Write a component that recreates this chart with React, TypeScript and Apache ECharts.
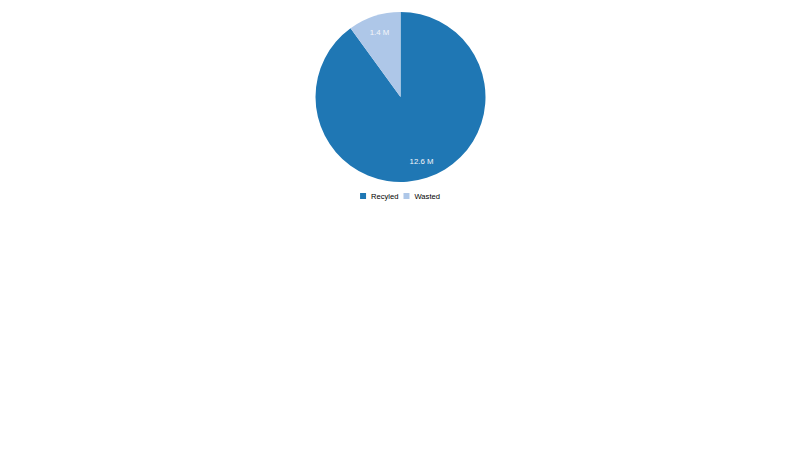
import React, { useEffect, useRef } from "react";
import * as echarts from "echarts";

const categories = ["Recyled", "Wasted"];
const values = [12.6, 1.4];
const colors = ["#1f77b4", "#aec7e8"];

export default function App() {
  const ref = useRef<HTMLDivElement>(null);
  useEffect(() => {
    if (!ref.current) return;
    const chart = echarts.init(ref.current, undefined, { renderer: "svg" });
    const data = categories.map((name, i) => ({
      name,
      value: values[i],
      itemStyle: { color: colors[i] },
    }));
    chart.setOption({
      animation: false,
      legend: {
        data: categories,
        top: 192,
        left: "center",
        itemWidth: 6,
        itemHeight: 6,
        itemGap: 5,
        icon: "rect",
        textStyle: {
          fontSize: 7.6,
          color: "#000",
          fontFamily: "Liberation Sans, Arial, sans-serif",
        },
        padding: 0,
      },
      series: [
        {
          type: "pie",
          center: [400.5, 97],
          radius: [0, 85],
          startAngle: 90,
          clockwise: true,
          label: { show: false },
          labelLine: { show: false },
          emphasis: { disabled: true },
          silent: true,
          data,
        },
        {
          type: "pie",
          center: [400.5, 97],
          radius: [45, 85],
          startAngle: 90,
          clockwise: true,
          itemStyle: { color: "rgba(0,0,0,0)" },
          label: {
            show: true,
            position: "inside",
            formatter: "{c} M",
            color: "#f4f6fa",
            fontSize: 7.8,
            fontWeight: "normal",
            textBorderWidth: 0,
            fontFamily: "Liberation Sans, Arial, sans-serif",
          },
          labelLine: { show: false },
          emphasis: { disabled: true },
          silent: true,
          data: categories.map((name, i) => ({
            name: name,
            value: values[i],
            itemStyle: { color: "rgba(0,0,0,0)" },
          })),
        },
      ],
    });
    return () => chart.dispose();
  }, []);
  return (
    <div
      ref={ref}
      style={{ position: "fixed", left: 0, top: 0, width: 800, height: 450, background: "#fff" }}
    />
  );
}
